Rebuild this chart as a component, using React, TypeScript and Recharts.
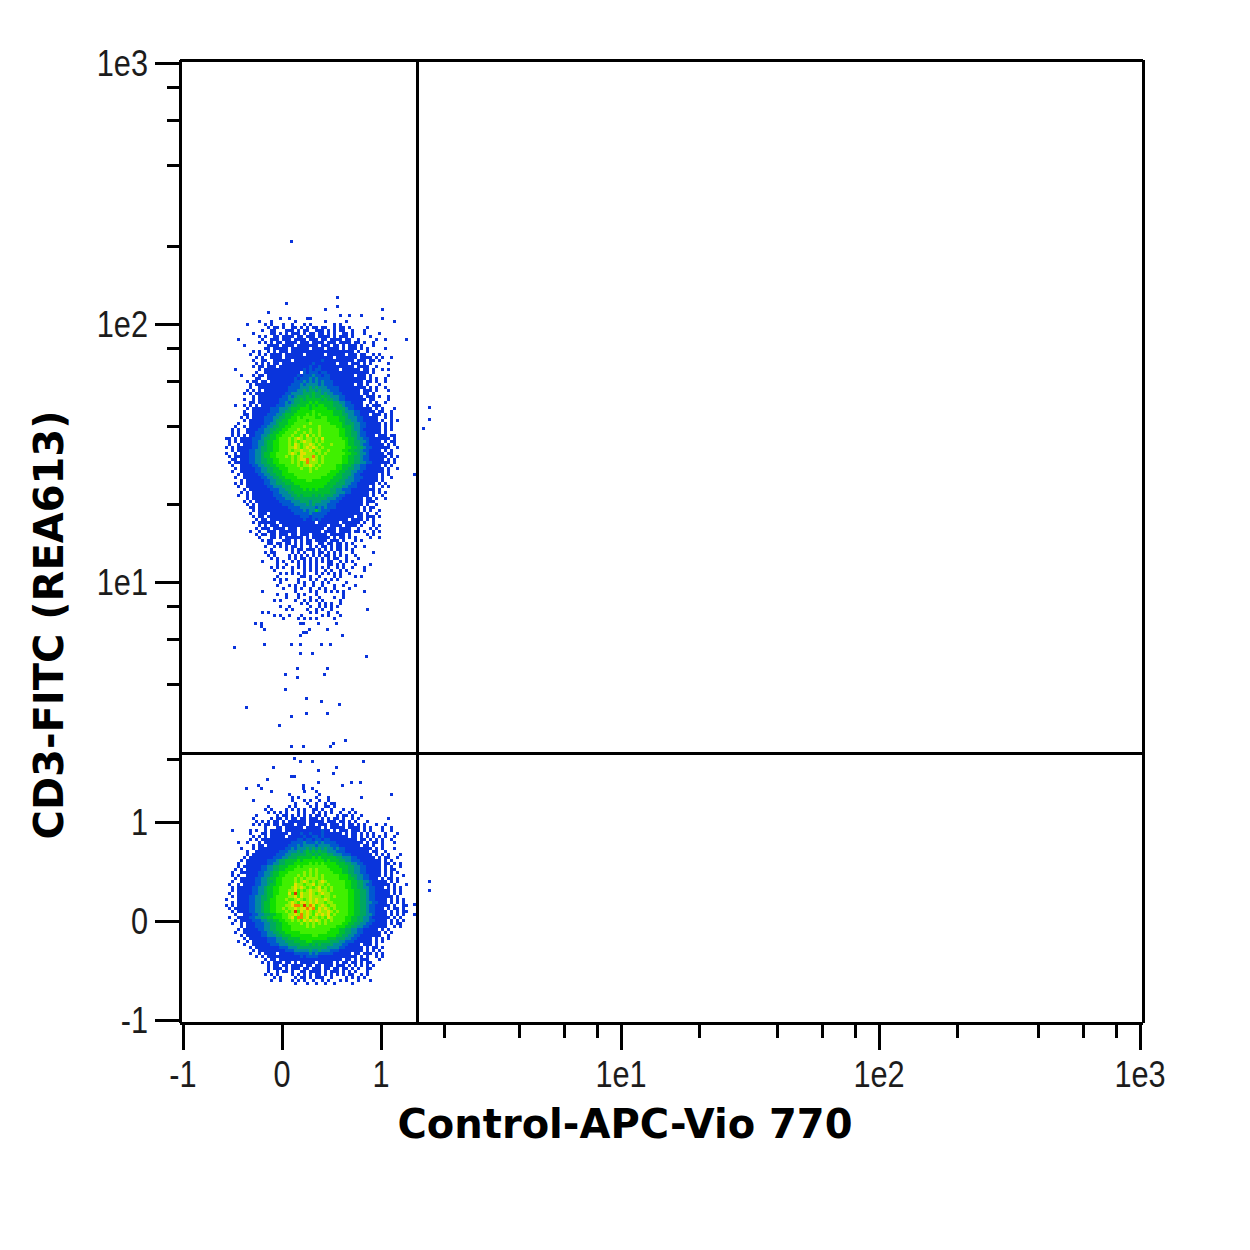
import React from 'react';
import { ScatterChart, Scatter, XAxis, YAxis, ReferenceLine } from 'recharts';

// Axis ticks, in display channels (the plot is 963 channels wide and tall)
const xTicks = [3, 102, 201, 264, 339, 384, 417, 441, 519, 597, 642, 675, 699, 777, 858, 903, 936, 960];
const xTickLabels = ['-1', '0', '1', '', '', '', '', '1e1', '', '', '', '', '1e2', '', '', '', '', '1e3'];
const yTicks = [3, 102, 201, 264, 339, 384, 417, 441, 519, 597, 642, 675, 699, 777, 858, 903, 936, 960];
const yTickLabels = ['-1', '0', '1', '', '', '', '', '1e1', '', '', '', '', '1e2', '', '', '', '', '1e3'];
const xGate = 237;
const yGate = 270;
const xTitle = 'Control-APC-Vio 770';
const yTitle = 'CD3-FITC (REA613)';

// Density level per bin: one string per row of bins, top to bottom.
const upperRows = [
  '......................................2',
  '',
  '.....................2',
  '......................................2',
  '..................................2..................2',
  '...............2',
  '.......................................2..2...2',
  '...................2..2.....22.......................2',
  '............2...2.......2.........2......2...............2',
  '........2.....2.2...2..2...2.2.......2.2',
  '...............2.22.2..22.2.2.22.22..2.22.2.....2',
  '.............2..22...222.2.22..222.2.2.22..2...2',
  '..........2.....22.2.2.222.2.22.22.2.2..22.2...2....2',
  '............2.2..22.2222.22.222.2222.2.222.2.....2',
  '.....2.......2..222.222.2222.222.22.2222.22..2.....2..2......2',
  '............2.2.2.22.2222.222.2222.222.2222.22.2..2',
  '.......2.......2222.2222.2222222.222.22.2.222.2...2',
  '..............22.22222.222222.2222.2222.2.222.2.2.....2',
  '..........2.2..2.2.222.222222222222222222222.2..2',
  '.........2..2.2.2222.222222.222222.222222.222.22..2.2',
  '...........2.2..2222.2222222222222222.2222222.2222.2.2..2',
  '..........2..22..222222.22222222232222222222.222.22.2',
  '...........2.2.2.22.222222222232222222.222.222.2.2.....2',
  '..........2.22.222.2222222222322322222222222.2222..2',
  '....2.......2.2222222222222323233222222.222222.22.2..2.2',
  '...........2..222222222222.3233323322222222222222.2',
  '......2...2.22.22222222223233343323322222222.222.2.....2',
  '...........22..222222222323334343333222222222222.2.2..2',
  '........2.22.22.2222222233343434343332222222222.22.2..2',
  '.........2.222222222222333434444343332222222.22.2...2',
  '.........2..222222222233334445454443333222222222.2.2..2',
  '........2.2.2.22222222333445455454443332222222.222.2...2',
  '.......2.2.22222222223344445556554544333222222.22.2',
  '..........2.22222222334345556565565544433222222.222.2..2',
  '.......2..2.222222233344556566666565544332222222.22....2',
  '.........22.22222223343455666767666665544332222..2.2..2',
  '....2..2.2.2.2222233344556667676776665554333222.2.222',
  '........2.2222223334445666777677777666555433222222.2.2...2',
  '.......2..22222233344556677777877777766654443322222.22..2',
  '.......22.222223334456667777878787777666554433222.222.2.2',
  '......2.2.222233344556677878888778877776654443322222..2.2',
  '.......2.2222233345566777888788888877776655443322222.2..2.2',
  '.....2...22222334456667788888988888877776555443322222.2.2',
  '....2..2.22223344556677888898888988888776665443322222.2.2',
  '...2.2..222233445566778889888988988888877665443222222.2.2',
  '...2.2..222333445667788898898988988888877665543322222.2',
  '...2.2.2.2233445667788898898a8989888888776655433222.222.22',
  '.22.2.2222333455667888989a9899898a8888887766544332222222.2',
  '..2.2.222233445667788898989a9989898888888766554432222.2.22',
  '..2..2.22233445667788898a9899a989888988887665543322222.2.2',
  '.2.2.2222233455667788899a989a9a9898888888776655433222222..2',
  '...2.222233445566778889899a99a89988988887766554332222.2.2',
  '.2..2.22233445667788889a98aa99989898888887766544322222.22',
  '..2.2222233445667788898989a999b989888888776655433222222.2.2',
  '...22.22233445566778888989aab9a98988888877665543322222.2.2',
  '..2.222223344556677888898989b999898888887766554433222222.2',
  '...2..22223344556677788889899a98988888776665443322222.2.2',
  '....2.222223344556677788889889898888887766554433222222.2..2',
  '...2..222223344556667788888889888888777665544332222222.2',
  '.....2.222223344556677778888888888877766555433222222.2.2',
  '....2..222222334455667777888888887777666554433322222.2..2',
  '......2.22222233445566677777887777776665544433222222.2',
  '....2.2.2222223344555666777777777776665554433222222.2.2',
  '.....2..22222223344455566677777777666555443332222.2..2.2',
  '.......2.222222233344556666767676666554433322222222.2',
  '......2.2.222222233444556666666666665544433222222.2.2.2',
  '.....2..2.222222233344455656665656555443322222222.2..2',
  '........2.2222222233344455555555555444332222222.22.2..2',
  '.......2.2.222222223333444555455544433322222222.222',
  '........2.2.22222222333344445454444333222222222.2..2',
  '.........22.2222222222333344444343433322222222.2.22',
  '..........2.2222222222233334344643332222222222.2.2..2',
  '.........2..222.2222222233333433333222222222222.2..2',
  '..........2.22.22222222222333233332222222222.22.222.2',
  '...........2.22.22222222222322323222222222.2222.2.2',
  '..........2.222222.222222222222.2222222.222222.2..2',
  '............2.2.222.222222222222222.2222.2222.2...2.2',
  '...........2.222.2222.222.22222222.222.2222..2...2.2',
  '.........2..2..222.222222.2222222.2222.2222.22.2..2.2',
  '...........2.22.22.222.22.222.22222.22222.2.....2.2',
  '............2...22.2.222222.2.222222.2.22.2.2....2..2',
  '.............2.22...222.2.2.22.2222.222.2...2.2',
  '...............22.22.22.2.2.22..22.22.22.2.2',
  '..............2..2.2.2.22.2..2.2.22.2.22.2..2..2',
  '................2....2.2.22.222.2.2.2.22.2.2',
  '..............2.22.....2.2.2..2.22.2.2.2...2......2',
  '...............2.2....2.2.2.2.2.2.22.2.2.2..2',
  '................2.2...2.2.22.2.2.2.2.22..2...2',
  '.............2....2.2..2.2.2.2.2.2.22..2.2.2',
  '..................2..2...2.2.2.2...22.2.2...2....2',
  '................2.2.2..2.2.2.2.2.2.2..2.2..2...2',
  '.................2.....2...2.2.2..2.2..2.2.....2',
  '...................2.2.2.2.2...2.2.2.2.2..2',
  '..................2.......22.2..2....2.2....2.2',
  '.................2.2.2...2...2.2..2.2.2',
  '...................2.....2.2..2..2.2.....2',
  '..................2...2.2..2..2..2...2..2...2',
  '....................2...2.2..2..2.2..2....2',
  '.............2..........2....2.2..2.2.2.2......2',
  '..................2..2...2.2...2........2',
  '.....................2...2...2..2....2..2',
  '.................2.2....2..2.2.2.2.....2',
  '..........................2.2...2.2.2..2',
  '...................2..2......2..2.2.2.2',
  '.....................2.2....2..2.2..2...........2',
  '.............2.2.............2.2...2..2',
  '.................2.2..2...2......2.2...2',
  '....................2....2.2.2.2.....2',
];

const lowerRows = [
  '................2..........2...2',
  '......................2.........2.......................2',
  '.......................2.2.....2...2..........2',
  '..........2............2...2.2..2..2',
  '........................2...2..2..2.22',
  '...............2......2.2....2.2..22.2',
  '..............2.2....2.2.2.2..22.2..2...2..2',
  '...............2.2.2.2...2.2..2.2.2.2..2..2.2',
  '...........2......2.22.2.2.2.2.22.2...2.22.2..2',
  '..........2.....2.22.2.22.22.222.2.2.22.2..2.2.........2',
  '...........2.2.2.22.2.222222.22222.222.22.2.2...2',
  '..........2.2.22.22.2222.222.22.222.222.2.22.2.2...2..2',
  '..............2...22.222222.22222.2.22222.2222.2.2...2..2',
  '...2.....2.2..2.2222.222222222222322.2.222.222.2.2...2..2',
  '.........2...22.222222.22232232223222222.2.22.2.2.2...2...2',
  '..........2.2.2.22222.22222322332322222222.22.2.2.2.2.2..2',
  '.........2.2.22222222222233233233233222222222.22.2.2.2..2',
  '.....2..2...2.222222222333343334343333222222222.2.22.2...2',
  '..........2.22.2222222333434444344443332222222.22.2..2',
  '......2...2.22222222233434445454545443433222222222.2.2...2',
  '........2..22222222333444545656565544433322222222.22..2',
  '........2.2222222233344555556656566554443332222222.2.2.2...2',
  '.......2.222222223334455566666767666665544433222222.2.22..2',
  '......2.222222233345566667677777776766655443332222222.2.2',
  '.....2..222222233445566677777878787777666554433222222.22.2.2',
  '.....2.2222223344556667778788888888777766655443322222.2.2..2',
  '....2.2.222223344556677788888989888877776655443322222.2.22',
  '...2..22222233445667778888898989888887776655443322222.2.2.2',
  '...2.2..222233445667788889898989898888877765544332222.2.2...2',
  '....2.2222233445667788889898999989888887776654433222.2.22.2',
  '...2..222223344556778888989a98989a988888877665544322222.2.2',
  '..2..2.22223344566778888a99899a8998988888776655433222222.2...2',
  '...2.2222233445667788889a9a98989a898988887766554433222.2.2.2',
  '...2.2222233445667788899a8989a99a99898888877665543322222.2.2',
  '..2..22222334456677888a8c8a99a989a9988888877665543322222.2.2',
  '...2.2222334455667888899a8a99a999899898888776655433222222.2',
  '.2...22223344556778889889a989a9a99a98888887766554332222.2.2.2',
  '...2.222233445667788889a98aa9a9a99899888887766554433222.2.2.2',
  '.2.2.222233445667788899abb9c9ba89a9899888877665543322222.2..22',
  '..2.22222334456677889899a9aabab8a9a9898888776655433222.2.22.2',
  '...2.2222334456677888989c8a9a989a99a9898887766554332222.2.2.22',
  '....2..22233445566778899a9b9a98a9a9a8988887766554432222.2.2.2',
  '..2..222233445566777889a8bb9a899898a98888776655443222222.2.2',
  '....2.222233344556677889898a9a9a98989888877665544332222.2.2.2',
  '...2..2.22233344556677888898989898988888776655443322222.2.22',
  '......2.22233344556677788888989888888877766554433222222..2.2',
  '.....2.222223344556677788888888888887776655443322222.2.2',
  '....2..2222223344556677777888888888777766554433222222.2.2',
  '......2.222223344455666777777788777777665544332222222..2',
  '.......2.22222233344556666777777777666555443322222.2.2.2',
  '.....2..2.2222233344455566667766666655544333222222.2.2',
  '.......2..222222333444555566656565555444332222.222.2',
  '.........2.222222223334445555555555444433222222.2.22.2',
  '..........2.22222222233344444544544433322222222.2.2.2',
  '.........2..2.2222.222223333343433333222222.22.222.2.2',
  '...........2.2.222222222223233332222222222222.2.2..2.2',
  '..............2.22.222222222222222222222.22.2.222...2',
  '.............2.2.222.22.2.22222.22222.2.22.22.2.22',
  '...............2.22.22.2222.22.22.222.222.2.2.2.2.2',
  '...............2.222.2.222.22.222.22.22.22.2.2..22',
  '...............2..2.22.2..22.2222.2.222.2.2.2...2',
  '..............2.2.2....2.2.2.2.22.2.2.2.2.22..2.2',
  '.................2.2....2.22.2.222..2....2.2.2.2',
  '................2..2...2.2.2..2..2.2...2.2...2...2',
  '........................2...2..2..2..2.....2',
];

// Isolated events outside the two rows-of-bins regions (display channels)
const sparseX = [111, 75, 81, 84, 81, 120, 123, 138, 156, 129, 147, 123, 126, 120, 162, 54, 84, 111, 120, 141, 150, 120, 132, 186, 117, 147, 105, 144, 117, 105, 126, 141, 159, 66, 111, 147, 99, 126, 165, 153, 150, 111, 123, 114, 120, 132, 183, 93, 156, 138, 153, 111, 114, 87, 138, 171, 180, 78, 162, 123, 123, 132, 66, 81, 249, 249, 243, 249, 249, 234, 234, 234];
const sparseY = [781, 399, 396, 393, 399, 399, 399, 399, 399, 393, 393, 390, 390, 387, 387, 375, 378, 378, 378, 378, 378, 369, 369, 366, 354, 354, 348, 348, 345, 333, 324, 321, 318, 315, 306, 309, 297, 309, 282, 279, 276, 276, 276, 264, 261, 261, 261, 255, 255, 252, 249, 246, 246, 243, 240, 240, 240, 237, 237, 237, 234, 234, 234, 234, 615, 603, 594, 141, 132, 548, 118, 108];

const levelColors = ['#0a34dc', '#0058d0', '#008aa0', '#00a860', '#00c030', '#10e000', '#40f000', '#90f000', '#e0e000', '#f08000', '#e03000'];
const levelKeys = '23456789abc';

type Pt = { x: number; y: number };

function binsFromRows(rows: string[], firstRowTop: number, key: string): Pt[] {
  const out: Pt[] = [];
  rows.forEach((row, r) => {
    for (let c = 0; c < row.length; c++) {
      if (row[c] === key) {
        out.push({ x: 42 + 3 * c + 1.5, y: 1023 - (firstRowTop + 3 * r + 1.5) });
      }
    }
  });
  return out;
}

const sparsePoints: Pt[] = sparseX.map((x, i) => ({ x: x + 0.5, y: sparseY[i] + 0.5 }));

const levelSeries = levelKeys.split('').map((key, i) => ({
  key,
  color: levelColors[i],
  data: [...binsFromRows(upperRows, 296, key), ...binsFromRows(lowerRows, 790, key)],
}));

function Bin(props: any) {
  const { cx, cy, fill } = props;
  return <rect x={cx - 1.5} y={cy - 1.5} width={3} height={3} fill={fill} shapeRendering="crispEdges" />;
}

const LABEL_STYLE = { fontFamily: '"Liberation Sans", Arial, sans-serif', fontSize: 37, fill: '#1c1c1c' };

function XTick(props: any) {
  const { x, y, payload, index } = props;
  const label = xTickLabels[xTicks.indexOf(payload.value)] ?? xTickLabels[index];
  const len = label ? 27 : 15;
  return (
    <g>
      <line x1={x} x2={x} y1={y} y2={y + len} stroke="#000" strokeWidth={3} shapeRendering="crispEdges" />
      {label ? (
        <text transform={`translate(${x},${y + 64}) scale(0.83,1)`} textAnchor="middle" {...LABEL_STYLE}>
          {label}
        </text>
      ) : null}
    </g>
  );
}

function YTick(props: any) {
  const { x, y, payload, index } = props;
  const label = yTickLabels[yTicks.indexOf(payload.value)] ?? yTickLabels[index];
  const len = label ? 25 : 13;
  return (
    <g>
      <line x1={x - len} x2={x} y1={y} y2={y} stroke="#000" strokeWidth={3} shapeRendering="crispEdges" />
      {label ? (
        <text transform={`translate(${x - 32},${y + 13}) scale(0.83,1)`} textAnchor="end" {...LABEL_STYLE}>
          {label}
        </text>
      ) : null}
    </g>
  );
}

const TITLE_STYLE = { fontFamily: '"DejaVu Sans", sans-serif', fontWeight: 700, fontSize: 40, fill: '#000' };

export default function App() {
  return (
    <div style={{ position: 'absolute', left: 0, top: 0, width: 1250, height: 1250, background: '#fff' }}>
      <ScatterChart width={1250} height={1250} margin={{ top: 60, right: 107, bottom: 127, left: 80 }}>
        <XAxis
          type="number"
          dataKey="x"
          domain={[0, 963]}
          ticks={xTicks}
          interval={0}
          height={100}
          tickSize={0}
          tickMargin={0}
          tick={<XTick />}
          axisLine={{ stroke: '#000', strokeWidth: 3, shapeRendering: 'crispEdges' }}
          tickLine={false}
          allowDataOverflow
        />
        <YAxis
          type="number"
          dataKey="y"
          domain={[0, 963]}
          ticks={yTicks}
          interval={0}
          width={100}
          tickSize={0}
          tickMargin={0}
          tick={<YTick />}
          axisLine={{ stroke: '#000', strokeWidth: 3, shapeRendering: 'crispEdges' }}
          tickLine={false}
          allowDataOverflow
        />
        {levelSeries.map((s) => (
          <Scatter key={s.key} data={s.data} fill={s.color} shape={<Bin />} isAnimationActive={false} />
        ))}
        <Scatter data={sparsePoints} fill={levelColors[0]} shape={<Bin />} isAnimationActive={false} />
        <ReferenceLine x={xGate} stroke="#000" strokeWidth={3} shapeRendering="crispEdges" />
        <ReferenceLine y={yGate} stroke="#000" strokeWidth={3} shapeRendering="crispEdges" />
        <ReferenceLine x={963} stroke="#000" strokeWidth={3} shapeRendering="crispEdges" />
        <ReferenceLine y={963} stroke="#000" strokeWidth={3} shapeRendering="crispEdges" />
        <text x={625} y={1138} textAnchor="middle" {...TITLE_STYLE}>
          {xTitle}
        </text>
        <text transform="translate(63,625) rotate(-90)" textAnchor="middle" {...TITLE_STYLE}>
          {yTitle}
        </text>
      </ScatterChart>
    </div>
  );
}
